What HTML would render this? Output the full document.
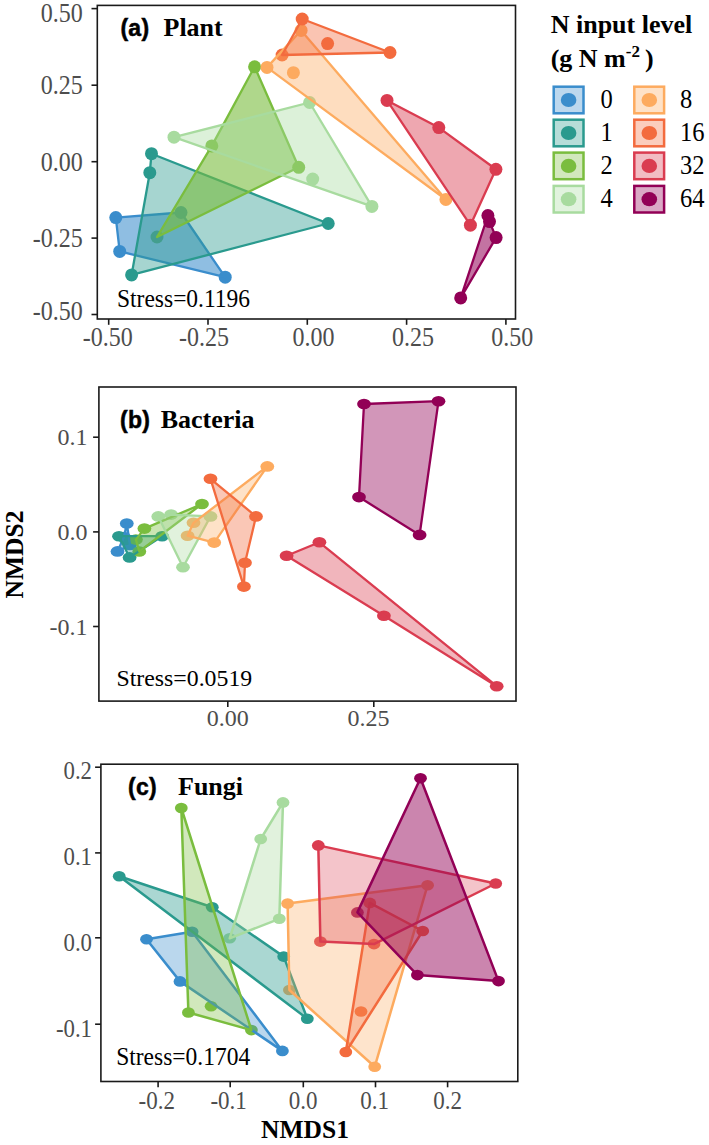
<!DOCTYPE html>
<html><head><meta charset="utf-8"><style>html,body{margin:0;padding:0;background:#fff;}svg{display:block;}</style></head><body>
<svg width="709" height="1145" viewBox="0 0 709 1145">
<rect width="709" height="1145" fill="#fff"/>
<ellipse cx="115.8" cy="217.6" rx="6.5" ry="6.5" fill="#3A8DCC"/>
<ellipse cx="181" cy="212.5" rx="6.5" ry="6.5" fill="#3A8DCC"/>
<ellipse cx="225.2" cy="277.2" rx="6.5" ry="6.5" fill="#3A8DCC"/>
<ellipse cx="119.7" cy="251.4" rx="6.5" ry="6.5" fill="#3A8DCC"/>
<ellipse cx="151.5" cy="153.7" rx="6.5" ry="6.5" fill="#2A9A8E"/>
<ellipse cx="328.2" cy="223.5" rx="6.5" ry="6.5" fill="#2A9A8E"/>
<ellipse cx="131.6" cy="274.9" rx="6.5" ry="6.5" fill="#2A9A8E"/>
<ellipse cx="149.8" cy="172.7" rx="6.5" ry="6.5" fill="#2A9A8E"/>
<ellipse cx="254.6" cy="66.8" rx="6.5" ry="6.5" fill="#7ABD3E"/>
<ellipse cx="298.7" cy="167.3" rx="6.5" ry="6.5" fill="#7ABD3E"/>
<ellipse cx="157" cy="237" rx="6.5" ry="6.5" fill="#7ABD3E"/>
<ellipse cx="211.8" cy="145.9" rx="6.5" ry="6.5" fill="#7ABD3E"/>
<ellipse cx="174" cy="137.2" rx="6.5" ry="6.5" fill="#A8DB9F"/>
<ellipse cx="309.6" cy="102.5" rx="6.5" ry="6.5" fill="#A8DB9F"/>
<ellipse cx="371.9" cy="206.4" rx="6.5" ry="6.5" fill="#A8DB9F"/>
<ellipse cx="312.7" cy="179.1" rx="6.5" ry="6.5" fill="#A8DB9F"/>
<ellipse cx="301.1" cy="30.4" rx="6.5" ry="6.5" fill="#FDAB5F"/>
<ellipse cx="445.9" cy="199.5" rx="6.5" ry="6.5" fill="#FDAB5F"/>
<ellipse cx="267" cy="67.4" rx="6.5" ry="6.5" fill="#FDAB5F"/>
<ellipse cx="293.4" cy="72.7" rx="6.5" ry="6.5" fill="#FDAB5F"/>
<ellipse cx="302.2" cy="19" rx="6.5" ry="6.5" fill="#F36B3E"/>
<ellipse cx="390" cy="52.5" rx="6.5" ry="6.5" fill="#F36B3E"/>
<ellipse cx="282.1" cy="55" rx="6.5" ry="6.5" fill="#F36B3E"/>
<ellipse cx="327.6" cy="43.6" rx="6.5" ry="6.5" fill="#F36B3E"/>
<ellipse cx="387" cy="100.4" rx="6.5" ry="6.5" fill="#DA3C50"/>
<ellipse cx="438.8" cy="127.6" rx="6.5" ry="6.5" fill="#DA3C50"/>
<ellipse cx="495.9" cy="169.3" rx="6.5" ry="6.5" fill="#DA3C50"/>
<ellipse cx="470.4" cy="225.2" rx="6.5" ry="6.5" fill="#DA3C50"/>
<ellipse cx="487.9" cy="215.5" rx="6.5" ry="6.5" fill="#920056"/>
<ellipse cx="489.5" cy="221.6" rx="6.5" ry="6.5" fill="#920056"/>
<ellipse cx="496.1" cy="237.6" rx="6.5" ry="6.5" fill="#920056"/>
<ellipse cx="460.7" cy="297.9" rx="6.5" ry="6.5" fill="#920056"/>
<polygon points="115.8,217.6 181,212.5 225.2,277.2 119.7,251.4" fill="#3A8DCC" fill-opacity="0.57" stroke="#3A8DCC" stroke-width="2.3" stroke-linejoin="round"/>
<polygon points="151.5,153.7 328.2,223.5 131.6,274.9 149.8,172.7" fill="#2A9A8E" fill-opacity="0.42" stroke="#2A9A8E" stroke-width="2.3" stroke-linejoin="round"/>
<polygon points="254.6,66.8 298.7,167.3 157,237 211.8,145.9" fill="#7ABD3E" fill-opacity="0.6" stroke="#7ABD3E" stroke-width="2.3" stroke-linejoin="round"/>
<polygon points="174,137.2 309.6,102.5 371.9,206.4" fill="#A8DB9F" fill-opacity="0.4" stroke="#A8DB9F" stroke-width="2.3" stroke-linejoin="round"/>
<polygon points="301.1,30.4 445.9,199.5 267,67.4" fill="#FDAB5F" fill-opacity="0.4" stroke="#FDAB5F" stroke-width="2.3" stroke-linejoin="round"/>
<polygon points="302.2,19 390,52.5 282.1,55" fill="#F36B3E" fill-opacity="0.4" stroke="#F36B3E" stroke-width="2.3" stroke-linejoin="round"/>
<polygon points="387,100.4 438.8,127.6 495.9,169.3 470.4,225.2" fill="#DA3C50" fill-opacity="0.45" stroke="#DA3C50" stroke-width="2.3" stroke-linejoin="round"/>
<polygon points="487.9,215.5 489.5,221.6 496.1,237.6 460.7,297.9" fill="#920056" fill-opacity="0.55" stroke="#920056" stroke-width="2.3" stroke-linejoin="round"/>
<rect x="97.3" y="5.4" width="418.2" height="313.6" fill="none" stroke="#1a1a1a" stroke-width="1.6"/>
<line x1="91.5" y1="8.6" x2="97.3" y2="8.6" stroke="#1a1a1a" stroke-width="1.6"/>
<line x1="91.5" y1="85.2" x2="97.3" y2="85.2" stroke="#1a1a1a" stroke-width="1.6"/>
<line x1="91.5" y1="161.7" x2="97.3" y2="161.7" stroke="#1a1a1a" stroke-width="1.6"/>
<line x1="91.5" y1="238.1" x2="97.3" y2="238.1" stroke="#1a1a1a" stroke-width="1.6"/>
<line x1="91.5" y1="314.5" x2="97.3" y2="314.5" stroke="#1a1a1a" stroke-width="1.6"/>
<line x1="108.7" y1="319.0" x2="108.7" y2="324.8" stroke="#1a1a1a" stroke-width="1.6"/>
<line x1="208" y1="319.0" x2="208" y2="324.8" stroke="#1a1a1a" stroke-width="1.6"/>
<line x1="307.3" y1="319.0" x2="307.3" y2="324.8" stroke="#1a1a1a" stroke-width="1.6"/>
<line x1="406.6" y1="319.0" x2="406.6" y2="324.8" stroke="#1a1a1a" stroke-width="1.6"/>
<line x1="505.9" y1="319.0" x2="505.9" y2="324.8" stroke="#1a1a1a" stroke-width="1.6"/>
<text transform="translate(82.7,21.7) scale(1,1.13)" text-anchor="end" font-family="Liberation Serif, serif" font-size="24" fill="#4D4D4D">0.50</text>
<text transform="translate(82.7,94.2) scale(1,1.13)" text-anchor="end" font-family="Liberation Serif, serif" font-size="24" fill="#4D4D4D">0.25</text>
<text transform="translate(82.7,170.7) scale(1,1.13)" text-anchor="end" font-family="Liberation Serif, serif" font-size="24" fill="#4D4D4D">0.00</text>
<text transform="translate(82.7,247) scale(1,1.13)" text-anchor="end" font-family="Liberation Serif, serif" font-size="24" fill="#4D4D4D">-0.25</text>
<text transform="translate(82.7,320) scale(1,1.13)" text-anchor="end" font-family="Liberation Serif, serif" font-size="24" fill="#4D4D4D">-0.50</text>
<text transform="translate(82.8,345.5) scale(1,1.13)" font-family="Liberation Serif, serif" font-size="24" fill="#4D4D4D">-0.50</text>
<text transform="translate(179.0,345.5) scale(1,1.13)" font-family="Liberation Serif, serif" font-size="24" fill="#4D4D4D">-0.25</text>
<text transform="translate(292.6,345.5) scale(1,1.13)" font-family="Liberation Serif, serif" font-size="24" fill="#4D4D4D">0.00</text>
<text transform="translate(391.9,345.5) scale(1,1.13)" font-family="Liberation Serif, serif" font-size="24" fill="#4D4D4D">0.25</text>
<text transform="translate(491.2,345.5) scale(1,1.13)" font-family="Liberation Serif, serif" font-size="24" fill="#4D4D4D">0.50</text>
<text x="120.4" y="36" font-family="Liberation Sans, sans-serif" font-weight="bold" font-size="23" stroke="#000" stroke-width="0.5" letter-spacing="0.3">(a)</text>
<text x="163.5" y="36" font-family="Liberation Serif, serif" font-weight="bold" font-size="26">Plant</text>
<text transform="translate(117,306.7) scale(1,1.07)" font-family="Liberation Serif, serif" font-size="23.5">Stress=0.1196</text>
<ellipse cx="126.8" cy="523.5" rx="6.9" ry="5.3" fill="#3A8DCC"/>
<ellipse cx="130" cy="545" rx="6.9" ry="5.3" fill="#3A8DCC"/>
<ellipse cx="117.5" cy="551.4" rx="6.9" ry="5.3" fill="#3A8DCC"/>
<ellipse cx="124" cy="537" rx="6.9" ry="5.3" fill="#3A8DCC"/>
<ellipse cx="119" cy="536.2" rx="6.9" ry="5.3" fill="#2A9A8E"/>
<ellipse cx="162.1" cy="536.2" rx="6.9" ry="5.3" fill="#2A9A8E"/>
<ellipse cx="129.6" cy="557.4" rx="6.9" ry="5.3" fill="#2A9A8E"/>
<ellipse cx="126" cy="540" rx="6.9" ry="5.3" fill="#2A9A8E"/>
<ellipse cx="202" cy="504" rx="6.9" ry="5.3" fill="#7ABD3E"/>
<ellipse cx="139.3" cy="551.5" rx="6.9" ry="5.3" fill="#7ABD3E"/>
<ellipse cx="135.9" cy="539.6" rx="6.9" ry="5.3" fill="#7ABD3E"/>
<ellipse cx="144.4" cy="528.6" rx="6.9" ry="5.3" fill="#7ABD3E"/>
<ellipse cx="158.3" cy="516.4" rx="6.9" ry="5.3" fill="#A8DB9F"/>
<ellipse cx="171.1" cy="514.6" rx="6.9" ry="5.3" fill="#A8DB9F"/>
<ellipse cx="210.5" cy="516.4" rx="6.9" ry="5.3" fill="#A8DB9F"/>
<ellipse cx="183" cy="567.2" rx="6.9" ry="5.3" fill="#A8DB9F"/>
<ellipse cx="267.3" cy="466.4" rx="6.9" ry="5.3" fill="#FDAB5F"/>
<ellipse cx="214.2" cy="542.6" rx="6.9" ry="5.3" fill="#FDAB5F"/>
<ellipse cx="187.6" cy="535.7" rx="6.9" ry="5.3" fill="#FDAB5F"/>
<ellipse cx="193.5" cy="522.8" rx="6.9" ry="5.3" fill="#FDAB5F"/>
<ellipse cx="210.5" cy="478.8" rx="6.9" ry="5.3" fill="#F36B3E"/>
<ellipse cx="256" cy="516.4" rx="6.9" ry="5.3" fill="#F36B3E"/>
<ellipse cx="245" cy="562.8" rx="6.9" ry="5.3" fill="#F36B3E"/>
<ellipse cx="243.9" cy="586.6" rx="6.9" ry="5.3" fill="#F36B3E"/>
<ellipse cx="286.6" cy="555.7" rx="6.9" ry="5.3" fill="#DA3C50"/>
<ellipse cx="319.4" cy="542.3" rx="6.9" ry="5.3" fill="#DA3C50"/>
<ellipse cx="496.7" cy="686.2" rx="6.9" ry="5.3" fill="#DA3C50"/>
<ellipse cx="383.9" cy="615.7" rx="6.9" ry="5.3" fill="#DA3C50"/>
<ellipse cx="364" cy="404" rx="6.9" ry="5.3" fill="#920056"/>
<ellipse cx="438.5" cy="401.2" rx="6.9" ry="5.3" fill="#920056"/>
<ellipse cx="419.6" cy="534.9" rx="6.9" ry="5.3" fill="#920056"/>
<ellipse cx="359" cy="497.1" rx="6.9" ry="5.3" fill="#920056"/>
<polygon points="126.8,523.5 130,545 117.5,551.4 124,537" fill="#3A8DCC" fill-opacity="0.4" stroke="#3A8DCC" stroke-width="2.3" stroke-linejoin="round"/>
<polygon points="119,536.2 162.1,536.2 129.6,557.4" fill="#2A9A8E" fill-opacity="0.4" stroke="#2A9A8E" stroke-width="2.3" stroke-linejoin="round"/>
<polygon points="202,504 139.3,551.5 135.9,539.6 144.4,528.6" fill="#7ABD3E" fill-opacity="0.4" stroke="#7ABD3E" stroke-width="2.3" stroke-linejoin="round"/>
<polygon points="158.3,516.4 171.1,514.6 210.5,516.4 183,567.2" fill="#A8DB9F" fill-opacity="0.35" stroke="#A8DB9F" stroke-width="2.3" stroke-linejoin="round"/>
<polygon points="267.3,466.4 214.2,542.6 187.6,535.7 193.5,522.8" fill="#FDAB5F" fill-opacity="0.35" stroke="#FDAB5F" stroke-width="2.3" stroke-linejoin="round"/>
<polygon points="210.5,478.8 256,516.4 245,562.8 243.9,586.6" fill="#F36B3E" fill-opacity="0.38" stroke="#F36B3E" stroke-width="2.3" stroke-linejoin="round"/>
<polygon points="286.6,555.7 319.4,542.3 496.7,686.2 383.9,615.7" fill="#DA3C50" fill-opacity="0.38" stroke="#DA3C50" stroke-width="2.3" stroke-linejoin="round"/>
<polygon points="364,404 438.5,401.2 419.6,534.9 359,497.1" fill="#920056" fill-opacity="0.41" stroke="#920056" stroke-width="2.3" stroke-linejoin="round"/>
<rect x="98.9" y="387" width="417.1" height="314.1" fill="none" stroke="#1a1a1a" stroke-width="1.6"/>
<line x1="93.10000000000001" y1="437.2" x2="98.9" y2="437.2" stroke="#1a1a1a" stroke-width="1.6"/>
<line x1="93.10000000000001" y1="531.9" x2="98.9" y2="531.9" stroke="#1a1a1a" stroke-width="1.6"/>
<line x1="93.10000000000001" y1="626.5" x2="98.9" y2="626.5" stroke="#1a1a1a" stroke-width="1.6"/>
<line x1="227.8" y1="701.1" x2="227.8" y2="706.9" stroke="#1a1a1a" stroke-width="1.6"/>
<line x1="373.8" y1="701.1" x2="373.8" y2="706.9" stroke="#1a1a1a" stroke-width="1.6"/>
<text transform="translate(87.5,444.5) scale(1,1.0)" text-anchor="end" font-family="Liberation Serif, serif" font-size="24.01" fill="#4D4D4D">0.1</text>
<text transform="translate(87.5,540) scale(1,1.0)" text-anchor="end" font-family="Liberation Serif, serif" font-size="24.01" fill="#4D4D4D">0.0</text>
<text transform="translate(87.5,634.5) scale(1,1.0)" text-anchor="end" font-family="Liberation Serif, serif" font-size="24.01" fill="#4D4D4D">-0.1</text>
<text transform="translate(227.8,726) scale(1,1.0)" text-anchor="middle" font-family="Liberation Serif, serif" font-size="24.01" fill="#4D4D4D">0.00</text>
<text transform="translate(368.5,726) scale(1,1.0)" text-anchor="middle" font-family="Liberation Serif, serif" font-size="24.01" fill="#4D4D4D">0.25</text>
<text x="120" y="427.5" font-family="Liberation Sans, sans-serif" font-weight="bold" font-size="23" stroke="#000" stroke-width="0.5" letter-spacing="0.3">(b)</text>
<text x="160.7" y="427.5" font-family="Liberation Serif, serif" font-weight="bold" font-size="26">Bacteria</text>
<text x="116.5" y="685.7" font-family="Liberation Serif, serif" font-size="23.8">Stress=0.0519</text>
<text transform="translate(22.5,554.5) rotate(-90)" text-anchor="middle" font-family="Liberation Serif, serif" font-weight="bold" font-size="25.5">NMDS2</text>
<ellipse cx="146.5" cy="939.2" rx="6.4" ry="5.3" fill="#3A8DCC"/>
<ellipse cx="192.1" cy="931.8" rx="6.4" ry="5.3" fill="#3A8DCC"/>
<ellipse cx="282.4" cy="1050.9" rx="6.4" ry="5.3" fill="#3A8DCC"/>
<ellipse cx="180" cy="981.4" rx="6.4" ry="5.3" fill="#3A8DCC"/>
<ellipse cx="119.2" cy="876.3" rx="6.4" ry="5.3" fill="#2A9A8E"/>
<ellipse cx="212.3" cy="907.3" rx="6.4" ry="5.3" fill="#2A9A8E"/>
<ellipse cx="283.7" cy="956.6" rx="6.4" ry="5.3" fill="#2A9A8E"/>
<ellipse cx="307.3" cy="1018.7" rx="6.4" ry="5.3" fill="#2A9A8E"/>
<ellipse cx="181.3" cy="808" rx="6.4" ry="5.3" fill="#7ABD3E"/>
<ellipse cx="251.4" cy="1030.1" rx="6.4" ry="5.3" fill="#7ABD3E"/>
<ellipse cx="188.4" cy="1012.5" rx="6.4" ry="5.3" fill="#7ABD3E"/>
<ellipse cx="211.1" cy="1006.3" rx="6.4" ry="5.3" fill="#7ABD3E"/>
<ellipse cx="283" cy="802.4" rx="6.4" ry="5.3" fill="#A8DB9F"/>
<ellipse cx="279.3" cy="918.8" rx="6.4" ry="5.3" fill="#A8DB9F"/>
<ellipse cx="229.7" cy="938.3" rx="6.4" ry="5.3" fill="#A8DB9F"/>
<ellipse cx="260.7" cy="839" rx="6.4" ry="5.3" fill="#A8DB9F"/>
<ellipse cx="287.6" cy="903.6" rx="6.4" ry="5.3" fill="#FDAB5F"/>
<ellipse cx="427.6" cy="885.2" rx="6.4" ry="5.3" fill="#FDAB5F"/>
<ellipse cx="374.7" cy="1066.8" rx="6.4" ry="5.3" fill="#FDAB5F"/>
<ellipse cx="289.4" cy="990" rx="6.4" ry="5.3" fill="#FDAB5F"/>
<ellipse cx="369.8" cy="902.9" rx="6.4" ry="5.3" fill="#F36B3E"/>
<ellipse cx="422.7" cy="931" rx="6.4" ry="5.3" fill="#F36B3E"/>
<ellipse cx="345.8" cy="1052" rx="6.4" ry="5.3" fill="#F36B3E"/>
<ellipse cx="361" cy="1011.5" rx="6.4" ry="5.3" fill="#F36B3E"/>
<ellipse cx="318.3" cy="845.4" rx="6.4" ry="5.3" fill="#DA3C50"/>
<ellipse cx="495.7" cy="883.5" rx="6.4" ry="5.3" fill="#DA3C50"/>
<ellipse cx="374" cy="944.1" rx="6.4" ry="5.3" fill="#DA3C50"/>
<ellipse cx="320.4" cy="941.6" rx="6.4" ry="5.3" fill="#DA3C50"/>
<ellipse cx="420.5" cy="778.2" rx="6.4" ry="5.3" fill="#920056"/>
<ellipse cx="498.5" cy="981.1" rx="6.4" ry="5.3" fill="#920056"/>
<ellipse cx="417.4" cy="975.1" rx="6.4" ry="5.3" fill="#920056"/>
<ellipse cx="357.4" cy="912.4" rx="6.4" ry="5.3" fill="#920056"/>
<polygon points="146.5,939.2 192.1,931.8 282.4,1050.9 180,981.4" fill="#3A8DCC" fill-opacity="0.35" stroke="#3A8DCC" stroke-width="2.5" stroke-linejoin="round"/>
<polygon points="119.2,876.3 212.3,907.3 283.7,956.6 307.3,1018.7" fill="#2A9A8E" fill-opacity="0.4" stroke="#2A9A8E" stroke-width="2.5" stroke-linejoin="round"/>
<polygon points="181.3,808 251.4,1030.1 188.4,1012.5" fill="#7ABD3E" fill-opacity="0.35" stroke="#7ABD3E" stroke-width="2.5" stroke-linejoin="round"/>
<polygon points="283,802.4 279.3,918.8 229.7,938.3 260.7,839" fill="#A8DB9F" fill-opacity="0.35" stroke="#A8DB9F" stroke-width="2.5" stroke-linejoin="round"/>
<polygon points="287.6,903.6 427.6,885.2 374.7,1066.8 289.4,990" fill="#FDAB5F" fill-opacity="0.32" stroke="#FDAB5F" stroke-width="2.5" stroke-linejoin="round"/>
<polygon points="369.8,902.9 422.7,931 345.8,1052" fill="#F36B3E" fill-opacity="0.31" stroke="#F36B3E" stroke-width="2.5" stroke-linejoin="round"/>
<polygon points="318.3,845.4 495.7,883.5 374,944.1 320.4,941.6" fill="#DA3C50" fill-opacity="0.3" stroke="#DA3C50" stroke-width="2.5" stroke-linejoin="round"/>
<polygon points="420.5,778.2 498.5,981.1 417.4,975.1 357.4,912.4" fill="#920056" fill-opacity="0.48" stroke="#920056" stroke-width="2.5" stroke-linejoin="round"/>
<rect x="100.9" y="764.2" width="416.9" height="317.29999999999995" fill="none" stroke="#1a1a1a" stroke-width="1.6"/>
<line x1="95.10000000000001" y1="767.2" x2="100.9" y2="767.2" stroke="#1a1a1a" stroke-width="1.6"/>
<line x1="95.10000000000001" y1="852.9" x2="100.9" y2="852.9" stroke="#1a1a1a" stroke-width="1.6"/>
<line x1="95.10000000000001" y1="937.8" x2="100.9" y2="937.8" stroke="#1a1a1a" stroke-width="1.6"/>
<line x1="95.10000000000001" y1="1024.2" x2="100.9" y2="1024.2" stroke="#1a1a1a" stroke-width="1.6"/>
<line x1="158.1" y1="1081.5" x2="158.1" y2="1087.3" stroke="#1a1a1a" stroke-width="1.6"/>
<line x1="230.2" y1="1081.5" x2="230.2" y2="1087.3" stroke="#1a1a1a" stroke-width="1.6"/>
<line x1="303.3" y1="1081.5" x2="303.3" y2="1087.3" stroke="#1a1a1a" stroke-width="1.6"/>
<line x1="375.5" y1="1081.5" x2="375.5" y2="1087.3" stroke="#1a1a1a" stroke-width="1.6"/>
<line x1="447.6" y1="1081.5" x2="447.6" y2="1087.3" stroke="#1a1a1a" stroke-width="1.6"/>
<text transform="translate(92,778.8) scale(1,1.12)" text-anchor="end" font-family="Liberation Serif, serif" font-size="22.8" fill="#4D4D4D">0.2</text>
<text transform="translate(92,865.2) scale(1,1.12)" text-anchor="end" font-family="Liberation Serif, serif" font-size="22.8" fill="#4D4D4D">0.1</text>
<text transform="translate(92,951) scale(1,1.12)" text-anchor="end" font-family="Liberation Serif, serif" font-size="22.8" fill="#4D4D4D">0.0</text>
<text transform="translate(92,1036.6) scale(1,1.12)" text-anchor="end" font-family="Liberation Serif, serif" font-size="22.8" fill="#4D4D4D">-0.1</text>
<text transform="translate(156.8,1109.3) scale(1,1.1)" text-anchor="middle" font-family="Liberation Serif, serif" font-size="23.01" fill="#4D4D4D">-0.2</text>
<text transform="translate(228.6,1109.3) scale(1,1.1)" text-anchor="middle" font-family="Liberation Serif, serif" font-size="23.01" fill="#4D4D4D">-0.1</text>
<text transform="translate(303.2,1109.3) scale(1,1.1)" text-anchor="middle" font-family="Liberation Serif, serif" font-size="23.01" fill="#4D4D4D">0.0</text>
<text transform="translate(374.6,1109.3) scale(1,1.1)" text-anchor="middle" font-family="Liberation Serif, serif" font-size="23.01" fill="#4D4D4D">0.1</text>
<text transform="translate(447.6,1109.3) scale(1,1.1)" text-anchor="middle" font-family="Liberation Serif, serif" font-size="23.01" fill="#4D4D4D">0.2</text>
<text x="128" y="795" font-family="Liberation Sans, sans-serif" font-weight="bold" font-size="23" stroke="#000" stroke-width="0.5" letter-spacing="0.3">(c)</text>
<text x="178" y="795" font-family="Liberation Serif, serif" font-weight="bold" font-size="26">Fungi</text>
<text transform="translate(116.2,1065) scale(1,1.07)" font-family="Liberation Serif, serif" font-size="23.5">Stress=0.1704</text>
<text x="305" y="1138.4" text-anchor="middle" font-family="Liberation Serif, serif" font-weight="bold" font-size="25.5">NMDS1</text>
<text x="550.7" y="32.7" font-family="Liberation Serif, serif" font-weight="bold" font-size="26">N input level</text>
<text x="550.7" y="66.7" font-family="Liberation Serif, serif" font-weight="bold" font-size="26">(g N m<tspan dy="-10" font-size="17">-2</tspan><tspan dy="10" dx="5">)</tspan></text>
<rect x="553.7" y="86.7" width="29.8" height="26.6" fill="#3A8DCC" fill-opacity="0.34" stroke="#3A8DCC" stroke-width="2.5"/>
<ellipse cx="568.6" cy="100.0" rx="7.8" ry="7.1" fill="#3A8DCC"/>
<text transform="translate(600.5,108.0) scale(1,1.1)" font-family="Liberation Serif, serif" font-size="24.5">0</text>
<rect x="553.7" y="119.7" width="29.8" height="26.6" fill="#2A9A8E" fill-opacity="0.34" stroke="#2A9A8E" stroke-width="2.5"/>
<ellipse cx="568.6" cy="133.0" rx="7.8" ry="7.1" fill="#2A9A8E"/>
<text transform="translate(600.5,141.0) scale(1,1.1)" font-family="Liberation Serif, serif" font-size="24.5">1</text>
<rect x="553.7" y="152.6" width="29.8" height="26.6" fill="#7ABD3E" fill-opacity="0.34" stroke="#7ABD3E" stroke-width="2.5"/>
<ellipse cx="568.6" cy="165.9" rx="7.8" ry="7.1" fill="#7ABD3E"/>
<text transform="translate(600.5,173.9) scale(1,1.1)" font-family="Liberation Serif, serif" font-size="24.5">2</text>
<rect x="553.7" y="185.89999999999998" width="29.8" height="26.6" fill="#A8DB9F" fill-opacity="0.34" stroke="#A8DB9F" stroke-width="2.5"/>
<ellipse cx="568.6" cy="199.2" rx="7.8" ry="7.1" fill="#A8DB9F"/>
<text transform="translate(600.5,207.2) scale(1,1.1)" font-family="Liberation Serif, serif" font-size="24.5">4</text>
<rect x="634.3" y="86.7" width="29.8" height="26.6" fill="#FDAB5F" fill-opacity="0.34" stroke="#FDAB5F" stroke-width="2.5"/>
<ellipse cx="649.3" cy="100.0" rx="7.8" ry="7.1" fill="#FDAB5F"/>
<text transform="translate(680,108.0) scale(1,1.1)" font-family="Liberation Serif, serif" font-size="24.5">8</text>
<rect x="634.3" y="119.7" width="29.8" height="26.6" fill="#F36B3E" fill-opacity="0.34" stroke="#F36B3E" stroke-width="2.5"/>
<ellipse cx="649.3" cy="133.0" rx="7.8" ry="7.1" fill="#F36B3E"/>
<text transform="translate(680,141.0) scale(1,1.1)" font-family="Liberation Serif, serif" font-size="24.5">16</text>
<rect x="634.3" y="152.6" width="29.8" height="26.6" fill="#DA3C50" fill-opacity="0.34" stroke="#DA3C50" stroke-width="2.5"/>
<ellipse cx="649.3" cy="165.9" rx="7.8" ry="7.1" fill="#DA3C50"/>
<text transform="translate(680,173.9) scale(1,1.1)" font-family="Liberation Serif, serif" font-size="24.5">32</text>
<rect x="634.3" y="185.89999999999998" width="29.8" height="26.6" fill="#920056" fill-opacity="0.34" stroke="#920056" stroke-width="2.5"/>
<ellipse cx="649.3" cy="199.2" rx="7.8" ry="7.1" fill="#920056"/>
<text transform="translate(680,207.2) scale(1,1.1)" font-family="Liberation Serif, serif" font-size="24.5">64</text>
</svg>
</body></html>
